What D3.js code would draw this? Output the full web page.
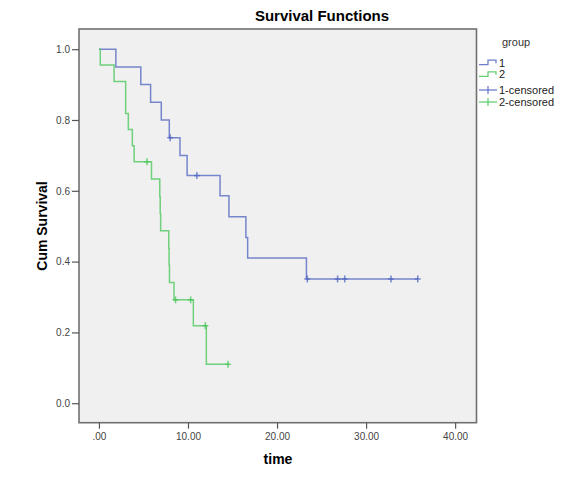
<!DOCTYPE html>
<html>
<head>
<meta charset="utf-8">
<script src="https://cdn.jsdelivr.net/npm/d3@7"></script>
<style>
  body { margin: 0; background: #fff; }
  svg { font-family: "Liberation Sans", Arial, sans-serif; }
</style>
</head>
<body>
<div id="chart"></div>
<script>
// Kaplan-Meier steps
var group1Times = [0, 1.9, 4.7, 5.8, 7.0, 7.9, 9.1, 9.9, 13.6, 14.6, 16.5, 16.7, 23.3, 35.8];
var group1Surv = [1.0, 0.95, 0.90, 0.85, 0.80, 0.75, 0.70, 0.643, 0.586, 0.527, 0.468, 0.41, 0.351, 0.351];
var group1CensorTimes = [8.0, 11.0, 23.4, 26.8, 27.6, 32.8, 35.8];
var group1CensorSurv = [0.75, 0.643, 0.351, 0.351, 0.351, 0.351, 0.351];

var group2Times = [0, 0.15, 1.7, 3.0, 3.3, 3.75, 3.95, 5.9, 6.83, 6.88, 6.93, 7.84, 7.88, 7.92, 8.43, 10.6, 12.06, 14.5];
var group2Surv = [1.0, 0.955, 0.909, 0.818, 0.773, 0.727, 0.682, 0.633, 0.584, 0.536, 0.487, 0.438, 0.39, 0.341, 0.292, 0.219, 0.11, 0.11];
var group2CensorTimes = [5.4, 8.6, 10.3, 11.95, 14.5];
var group2CensorSurv = [0.682, 0.292, 0.292, 0.219, 0.11];

var xTicks = [0, 10, 20, 30, 40];
var yTicks = [0, 0.2, 0.4, 0.6, 0.8, 1.0];
var legendLabels = ["1", "2", "1-censored", "2-censored"];

var blue = "#5368c2", green = "#4cc65a";

var width = 580, height = 480;
var frame = { left: 79, top: 29, right: 476.5, bottom: 422.7 };

var svg = d3.select("#chart").append("svg")
  .attr("width", width)
  .attr("height", height);

var x = d3.scaleLinear().domain([-2.24, 42.4]).range([frame.left, frame.right]);
var y = d3.scaleLinear().domain([-0.055, 1.057]).range([frame.bottom, frame.top]);

// plot frame
svg.append("rect")
  .attr("x", frame.left)
  .attr("y", frame.top)
  .attr("width", frame.right - frame.left)
  .attr("height", frame.bottom - frame.top)
  .attr("fill", "#f0f0f0")
  .attr("stroke", "#707070")
  .attr("stroke-width", 1.6);

var yAxis = d3.axisLeft(y).tickValues(yTicks).tickFormat(d3.format(".1f")).tickSize(7).tickPadding(2);
var xAxis = d3.axisBottom(x).tickValues(xTicks)
  .tickFormat(function(d) { return d === 0 ? ".00" : d.toFixed(2); })
  .tickSize(6).tickPadding(4);

var gy = svg.append("g").attr("transform", "translate(" + frame.left + ",0)").call(yAxis);
var gx = svg.append("g").attr("transform", "translate(0," + frame.bottom + ")").call(xAxis);
[gx, gy].forEach(function(g) {
  g.select(".domain").remove();
  g.selectAll(".tick line").attr("stroke", "#555").attr("stroke-width", 1.2);
  g.selectAll(".tick text").attr("fill", "#444").attr("font-size", 10)
    .attr("font-family", "'Liberation Sans', Arial, sans-serif");
});

var line = d3.line()
  .x(function(d) { return x(d[0]); })
  .y(function(d) { return y(d[1]); })
  .curve(d3.curveStepAfter);

function drawGroup(times, surv, cTimes, cSurv, color) {
  svg.append("path")
    .datum(d3.zip(times, surv))
    .attr("fill", "none")
    .attr("stroke", color)
    .attr("stroke-width", 1.5)
    .attr("stroke-opacity", 0.78)
    .attr("d", line);

  var marks = svg.append("g").selectAll("g")
    .data(d3.zip(cTimes, cSurv))
    .join("g")
    .attr("transform", function(d) { return "translate(" + x(d[0]) + "," + y(d[1]) + ")"; })
    .attr("stroke", color)
    .attr("stroke-width", 1.5)
    .attr("stroke-opacity", 0.78);
  marks.append("line").attr("x1", 0).attr("x2", 0).attr("y1", -3.5).attr("y2", 3.5);
  marks.append("line").attr("x1", -3).attr("x2", 3).attr("y1", 0).attr("y2", 0);
}

drawGroup(group1Times, group1Surv, group1CensorTimes, group1CensorSurv, blue);
drawGroup(group2Times, group2Surv, group2CensorTimes, group2CensorSurv, green);

// titles
svg.append("text")
  .attr("x", 322).attr("y", 21)
  .attr("text-anchor", "middle")
  .attr("font-size", 15).attr("font-weight", "bold")
  .text("Survival Functions");

svg.append("text")
  .attr("x", 278).attr("y", 464)
  .attr("text-anchor", "middle")
  .attr("font-size", 14).attr("font-weight", "bold")
  .text("time");

svg.append("text")
  .attr("transform", "translate(46.5,226) rotate(-90)")
  .attr("text-anchor", "middle")
  .attr("font-size", 14).attr("font-weight", "bold")
  .text("Cum Survival");

// legend
var legend = svg.append("g");
legend.append("text")
  .attr("x", 502).attr("y", 45.5)
  .attr("font-size", 11).attr("fill", "#333")
  .text("group");

var rowY = [66.7, 78.3, 94, 106];
var legendColors = [blue, green, blue, green];

legendLabels.forEach(function(label, i) {
  var cy = rowY[i] - 4;
  var g = legend.append("g")
    .attr("stroke", legendColors[i])
    .attr("stroke-width", 1.3)
    .attr("stroke-opacity", 0.85)
    .attr("fill", "none");
  if (i < 2) {
    g.append("path").attr("d",
      "M479," + (cy + 2) + "H488V" + (cy - 2.5) + "H496V" + (cy + 0.5));
  } else {
    g.append("line").attr("x1", 479).attr("x2", 497).attr("y1", cy).attr("y2", cy);
    g.append("line").attr("x1", 488).attr("x2", 488).attr("y1", cy - 4).attr("y2", cy + 4);
  }
  legend.append("text")
    .attr("x", 499).attr("y", rowY[i])
    .attr("font-size", 11).attr("fill", "#222")
    .text(label);
});
</script>
</body>
</html>
